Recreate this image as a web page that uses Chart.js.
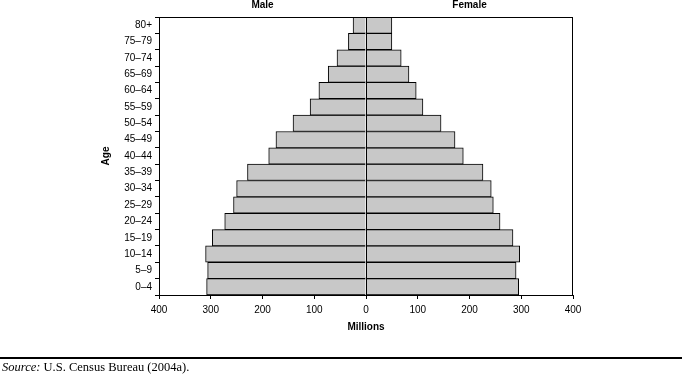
<!DOCTYPE html>
<html>
<head>
<meta charset="utf-8">
<script src="https://cdn.jsdelivr.net/npm/chart.js@4"></script>
<style>
  html, body { margin: 0; padding: 0; background: #fff; }
  #wrap { position: relative; width: 682px; height: 376px; overflow: hidden; }
  canvas { position: absolute; left: 0; top: 0; }
  #rule { position: absolute; left: 0; top: 357px; width: 682px; height: 2px; background: #000; }
  #source { position: absolute; left: 2px; top: 360px; font-family: "Liberation Serif", serif; font-size: 12.5px; color: #000; white-space: nowrap; }
</style>
</head>
<body>
<div id="wrap">
  <canvas id="c" width="682" height="376"></canvas>
  <div id="rule"></div>
  <div id="source"><i>Source:</i> U.S. Census Bureau (2004a).</div>
</div>
<script>
const ageGroups = ['0–4','5–9','10–14','15–19','20–24','25–29','30–34','35–39','40–44','45–49','50–54','55–59','60–64','65–69','70–74','75–79','80+'];
const maleMillions = [308, 306, 310, 297, 273, 256, 250, 229, 188, 174, 141, 108, 91, 73, 56, 34, 25];
const femaleMillions = [295, 290, 297, 284, 259, 246, 242, 226, 188, 172, 145, 110, 97, 83, 68, 50, 50];
const xTickValues = [-400, -300, -200, -100, 0, 100, 200, 300, 400];
const sideTitles = ['Male', 'Female'];

const FONT = '"Liberation Sans", Arial, Helvetica, sans-serif';

const framePlugin = {
  id: 'frame',
  afterDatasetsDraw(chart) {
    const { ctx, chartArea: a, scales } = chart;
    ctx.save();
    ctx.strokeStyle = '#000';
    ctx.lineWidth = 1;
    ctx.strokeRect(Math.round(a.left) + 0.5, Math.round(a.top) + 0.5, Math.round(a.right - a.left) - 1, Math.round(a.bottom - a.top));
    const x0 = Math.round(scales.x.getPixelForValue(0)) + 0.5;
    ctx.beginPath();
    ctx.moveTo(x0, a.top);
    ctx.lineTo(x0, a.bottom);
    ctx.stroke();
    ctx.fillStyle = '#000';
    ctx.font = 'bold 10px ' + FONT;
    ctx.textAlign = 'center';
    ctx.textBaseline = 'middle';
    const xl = (a.left + scales.x.getPixelForValue(0)) / 2;
    const xr = (a.right + scales.x.getPixelForValue(0)) / 2;
    ctx.fillText(sideTitles[0], xl, 5);
    ctx.fillText(sideTitles[1], xr, 5);
    ctx.restore();
  }
};

new Chart(document.getElementById('c'), {
  type: 'bar',
  data: {
    labels: ageGroups,
    datasets: [
      { label: 'Male', data: maleMillions.map(v => -v), backgroundColor: '#c8c8c8', borderColor: '#000', borderWidth: 1, borderSkipped: 'start', barPercentage: 1, categoryPercentage: 1 },
      { label: 'Female', data: femaleMillions, backgroundColor: '#c8c8c8', borderColor: '#000', borderWidth: 1, borderSkipped: 'start', barPercentage: 1, categoryPercentage: 1 }
    ]
  },
  options: {
    indexAxis: 'y',
    responsive: false,
    animation: false,
    events: [],
    layout: { padding: { left: 95, right: 109, top: 17, bottom: 41 } },
    plugins: { legend: { display: false }, tooltip: { enabled: false }, title: { display: false } },
    scales: {
      x: {
        type: 'linear',
        stacked: true,
        min: -400, max: 400,
        afterBuildTicks(scale) { scale.ticks = xTickValues.map(v => ({ value: v })); },
        afterFit(scale) { scale.height = 40; },
        ticks: {
          color: '#000', font: { family: FONT, size: 10 }, padding: 5,
          maxRotation: 0, autoSkip: false,
          callback: v => String(Math.abs(v))
        },
        grid: { drawOnChartArea: false, drawTicks: true, tickLength: 4, tickColor: '#000', color: '#000' },
        border: { display: true, color: '#000', width: 1 },
        title: { display: true, text: 'Millions', color: '#000', font: { family: FONT, size: 10, weight: 'bold' }, padding: { top: 0, bottom: 2 } }
      },
      y: {
        type: 'category',
        stacked: true,
        reverse: true,
        offset: true,
        afterFit(scale) { scale.width = 64; },
        ticks: { color: '#000', font: { family: FONT, size: 10 }, padding: 3, autoSkip: false },
        grid: { offset: true, drawOnChartArea: false, drawTicks: true, tickLength: 4, tickColor: '#000' },
        border: { display: true, color: '#000', width: 1 },
        title: { display: true, text: 'Age', color: '#000', font: { family: FONT, size: 10, weight: 'bold' }, padding: { top: 5, bottom: 0 } }
      }
    }
  },
  plugins: [framePlugin]
});
</script>
</body>
</html>
